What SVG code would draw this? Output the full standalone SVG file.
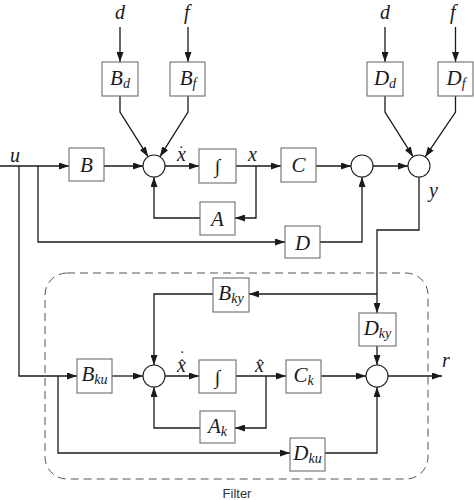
<svg xmlns="http://www.w3.org/2000/svg" width="474" height="500" viewBox="0 0 474 500">
<style>
.box{fill:#fff;stroke:#6e6e6e;stroke-width:1.1}
.sum{fill:#fff;stroke:#222;stroke-width:1.1}
.ln{fill:none;stroke:#1a1a1a;stroke-width:1.3}
text.m{font-size:20px;fill:#1a1a1a}
text.acc{font-size:16px;fill:#1a1a1a;font-style:normal}
text.bl{font-size:21px;fill:#1a1a1a;text-anchor:middle}
.sb{font-size:14px}
text.int{font-size:20px;fill:#1a1a1a;text-anchor:middle;font-style:normal}
</style>
<defs>
<marker id="ar" markerWidth="10" markerHeight="7" refX="10" refY="3.5" orient="auto" markerUnits="userSpaceOnUse">
<path d="M0,0 L10,3.5 L0,7 z" fill="#1a1a1a"/>
</marker>
</defs>
<rect x="45" y="273" width="383" height="206" rx="22" fill="none" stroke="#555" stroke-width="1" stroke-dasharray="8,5"/>
<text x="237" y="498" font-family="Liberation Sans, Arial, sans-serif" font-size="13" fill="#333" text-anchor="middle">Filter</text>
<g id="connectors" class="ln" marker-end="url(#ar)">
<path d="M120,27 V62"/>
<path d="M188,27 V62"/>
<path d="M385,27 V62"/>
<path d="M455.5,27 V62"/>
<path d="M120,96 V112 L148.1,156.7"/>
<path d="M188,96 V112 L159.9,156.7"/>
<path d="M385,96 V112 L413.1,156.7"/>
<path d="M455.5,96 V112 L425.2,156.9"/>
<path d="M0,166 H69"/>
<path d="M104,166 H143"/>
<path d="M165,166 H199"/>
<path d="M236,166 H281"/>
<path d="M316,166 H351"/>
<path d="M373,166 H408"/>
<path d="M256,166 V218 H235"/>
<path d="M200,218 H154 V177"/>
<path d="M38,166 V242 H285"/>
<path d="M320,242 H362 V177"/>
<path d="M419,177 V230 H377 V313"/>
<path d="M377,294 H249"/>
<path d="M213,294 H154 V365"/>
<path d="M19,166 V376 H77"/>
<path d="M112,376 H143"/>
<path d="M165,376 H199"/>
<path d="M236,376 H286"/>
<path d="M321,376 H366"/>
<path d="M388,376 H442"/>
<path d="M266,376 V428 H235"/>
<path d="M200,428 H154 V387"/>
<path d="M58,376 V453 H290"/>
<path d="M325,453 H377 V387"/>
<path d="M377,346 V365"/>
</g>
<g font-family="Liberation Serif, Times New Roman, serif" font-style="italic">
<g id="n-Bd"><rect class="box" x="102" y="62" width="36" height="34"/><text class="bl" x="120" y="85">B<tspan class="sb" dy="3">d</tspan></text></g>
<g id="n-Bf"><rect class="box" x="170" y="62" width="35" height="34"/><text class="bl" x="188" y="85">B<tspan class="sb" dy="3">f</tspan></text></g>
<g id="n-Dd"><rect class="box" x="367" y="62" width="36" height="34"/><text class="bl" x="385" y="85">D<tspan class="sb" dy="3">d</tspan></text></g>
<g id="n-Df"><rect class="box" x="438" y="62" width="35" height="34"/><text class="bl" x="456" y="85">D<tspan class="sb" dy="3">f</tspan></text></g>
<g id="n-B"><rect class="box" x="69" y="148" width="35" height="33"/><text class="bl" x="86.5" y="172">B</text></g>
<g id="n-sum1"><circle class="sum" cx="154" cy="166" r="11"/></g>
<g id="n-int1"><rect class="box" x="199" y="149" width="37" height="34"/><text class="int" x="217.5" y="173">∫</text></g>
<g id="n-A"><rect class="box" x="200" y="202" width="35" height="33"/><text class="bl" x="217.5" y="226">A</text></g>
<g id="n-C"><rect class="box" x="281" y="148" width="35" height="34"/><text class="bl" x="298.5" y="172">C</text></g>
<g id="n-sum2"><circle class="sum" cx="362" cy="166" r="11"/></g>
<g id="n-sum3"><circle class="sum" cx="419" cy="166" r="11"/></g>
<g id="n-D"><rect class="box" x="285" y="226" width="35" height="32"/><text class="bl" x="302.5" y="250">D</text></g>
<g id="n-Bky"><rect class="box" x="213" y="278" width="36" height="34"/><text class="bl" x="231" y="300">B<tspan class="sb" dy="3">ky</tspan></text></g>
<g id="n-Dky"><rect class="box" x="359" y="313" width="37" height="33"/><text class="bl" x="377.5" y="335">D<tspan class="sb" dy="3">ky</tspan></text></g>
<g id="n-Bku"><rect class="box" x="77" y="359" width="35" height="34"/><text class="bl" x="94.5" y="381">B<tspan class="sb" dy="3">ku</tspan></text></g>
<g id="n-sum4"><circle class="sum" cx="154" cy="376" r="11"/></g>
<g id="n-int2"><rect class="box" x="199" y="360" width="37" height="33"/><text class="int" x="217.5" y="384">∫</text></g>
<g id="n-Ak"><rect class="box" x="200" y="411" width="35" height="32"/><text class="bl" x="217.5" y="433">A<tspan class="sb" dy="3">k</tspan></text></g>
<g id="n-Ck"><rect class="box" x="286" y="360" width="35" height="33"/><text class="bl" x="303.5" y="382">C<tspan class="sb" dy="3">k</tspan></text></g>
<g id="n-sum5"><circle class="sum" cx="377" cy="376" r="11"/></g>
<g id="n-Dku"><rect class="box" x="290" y="438" width="35" height="33"/><text class="bl" x="307.5" y="460">D<tspan class="sb" dy="3">ku</tspan></text></g>
<g id="labels">
<text class="m" x="115" y="19">d</text>
<text class="m" x="184" y="19">f</text>
<text class="m" x="380" y="19">d</text>
<text class="m" x="450" y="19">f</text>
<text class="m" x="10" y="162">u</text>
<text class="m" x="177" y="161">x</text>
<text class="acc" x="178.5" y="157">˙</text>
<text class="m" x="248" y="161">x</text>
<text class="m" x="429" y="197">y</text>
<text class="m" x="177" y="372">x</text>
<text class="acc" x="179.3" y="371">ˆ</text>
<text class="acc" x="179.5" y="362">˙</text>
<text class="m" x="255" y="372">x</text>
<text class="acc" x="257.5" y="371">ˆ</text>
<text class="m" x="442" y="367">r</text>
</g>
</g>
</svg>
